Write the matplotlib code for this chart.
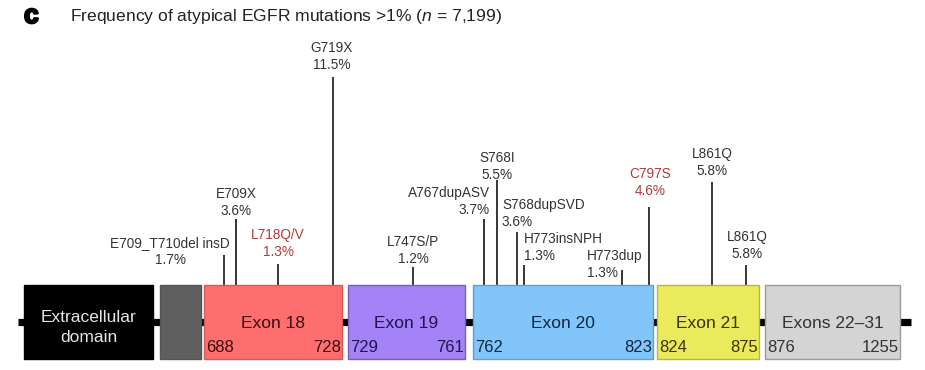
import matplotlib
matplotlib.use("Agg")
import matplotlib.pyplot as plt
from matplotlib.patches import Rectangle
import matplotlib.patheffects as pe

plt.rcParams['font.family'] = ['Liberation Sans', 'DejaVu Sans']
plt.rcParams['mathtext.fontset'] = 'custom'
plt.rcParams['mathtext.rm'] = 'Liberation Sans'
plt.rcParams['mathtext.it'] = 'Liberation Sans:italic'

# ---------------- data ----------------
domain_names = ["Extracellular\ndomain", "", "Exon 18", "Exon 19", "Exon 20", "Exon 21", "Exons 22\u201331"]
domain_start = [None, None, 688, 729, 762, 824, 876]
domain_end = [None, None, 728, 761, 823, 875, 1255]

mut_names = ["E709_T710del insD", "E709X", "L718Q/V", "G719X", "L747S/P", "A767dupASV",
             "S768I", "S768dupSVD", "H773insNPH", "H773dup", "C797S", "L861Q", "L861Q"]
mut_freq = [1.7, 3.6, 1.3, 11.5, 1.2, 3.7, 5.5, 3.6, 1.3, 1.3, 4.6, 5.8, 5.8]
mut_highlight = [False, False, True, False, False, False, False, False, False, False, True, False, False]

title_text = "Frequency of atypical EGFR mutations >1% ($\\mathit{n}$ = 7,199)"
panel_letter = "c"

# ---------------- layout (pixel space) ----------------
W, H = 925, 370
box_left = [24, 160, 204, 348, 473, 657, 765]
box_right = [153, 201, 342, 465, 653, 759, 900]
box_top, box_bottom = 285, 359
box_fill = ["#000000", "#5f5f5f", "#ff6e6e", "#a383f6", "#82c5fa", "#ebe95c", "#d4d4d4"]
box_edge = ["#000000", "#555555", "#d85858", "#7a5cc8", "#5e9fd6", "#b8b640", "#9a9a9a"]
box_text_color = ["#e6e6e6", "#ffffff", "#3a0d0d", "#24124f", "#0d2740", "#3a3400", "#333333"]

backbone_y = 322
backbone_x0, backbone_x1 = 18, 911

stem_x = [224, 236, 278, 333, 413, 484, 497, 517, 524, 622, 649, 712, 746]
stem_top = [255, 219, 264, 77, 267, 219, 180, 232, 265, 270, 207, 182, 265]
label_x = [170, 236, 278, 332, 413, 490, 497, 502, 524, 587, 650, 712, 747]
label_y = [243, 194, 235, 48, 242, 193, 158, 205, 239, 256, 174, 154, 237]
label_ha = ['center', 'center', 'center', 'center', 'center', 'right', 'center',
            'left', 'left', 'left', 'center', 'center', 'center']
line_gap = 17

fig = plt.figure(figsize=(W / 100, H / 100), dpi=100)
ax = fig.add_axes([0, 0, 1, 1])
ax.set_xlim(0, W)
ax.set_ylim(H, 0)
ax.axis('off')

# backbone
ax.plot([backbone_x0, backbone_x1], [backbone_y, backbone_y], color='black', lw=5.2,
        solid_capstyle='butt', zorder=1)

# domain boxes
for i, name in enumerate(domain_names):
    l, r = box_left[i], box_right[i]
    ax.add_patch(Rectangle((l, box_top), r - l, box_bottom - box_top,
                           facecolor=box_fill[i], edgecolor=box_edge[i], lw=1.0, zorder=2))
    cx = (l + r) / 2
    if i == 0:
        ax.text(cx, 317, "Extracellular", ha='center', va='center', fontsize=12.5,
                color=box_text_color[i], zorder=3)
        ax.text(cx, 338, "domain", ha='center', va='center', fontsize=12.5,
                color=box_text_color[i], zorder=3)
    elif name:
        ax.text(cx, 323, name, ha='center', va='center', fontsize=12.5,
                color=box_text_color[i], zorder=3)
    if domain_start[i] is not None:
        ax.text(l + 2, 348, str(domain_start[i]), ha='left', va='center', fontsize=12,
                color=box_text_color[i], zorder=3)
        ax.text(r - 1, 348, str(domain_end[i]), ha='right', va='center', fontsize=12,
                color=box_text_color[i], zorder=3)

# mutation stems and labels
for i, name in enumerate(mut_names):
    ax.plot([stem_x[i], stem_x[i]], [box_top, stem_top[i]], color='black', lw=1.1, zorder=1.5,
            solid_capstyle='butt')
    col = "#b03a3a" if mut_highlight[i] else "#333333"
    ax.text(label_x[i], label_y[i], name, ha=label_ha[i], va='center', fontsize=9.8, color=col)
    ax.text(label_x[i], label_y[i] + line_gap, f"{mut_freq[i]}%", ha=label_ha[i], va='center',
            fontsize=9.8, color=col)

# title
ax.text(24, 16, panel_letter, ha='left', va='center', fontsize=19, fontweight='bold',
        color='black', path_effects=[pe.withStroke(linewidth=1.6, foreground='black')])
ax.text(70, 17, title_text, ha='left', va='center', fontsize=12.6, color='#222222')

fig.savefig("out.png", dpi=100)
